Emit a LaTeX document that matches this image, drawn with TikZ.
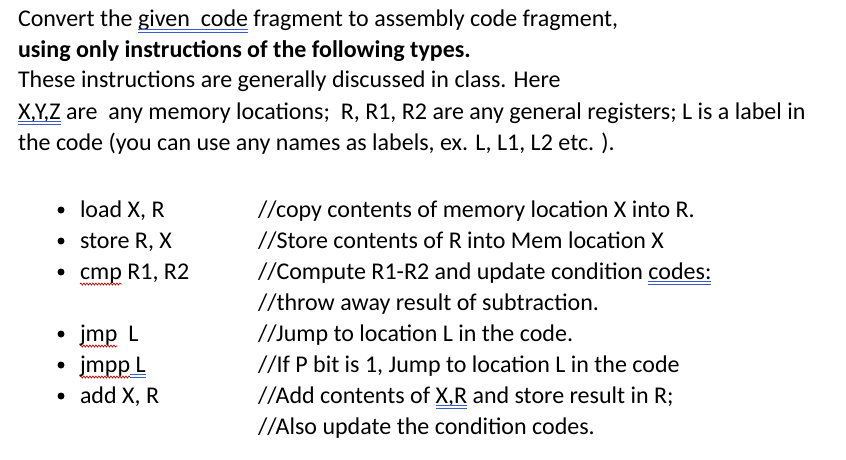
\documentclass[tikz,border=0pt]{standalone}
\usepackage{fontspec}
\setmainfont{Carlito}
\usetikzlibrary{decorations.pathmorphing}
\definecolor{spellblue}{RGB}{60,90,200}
\begin{document}
\begin{tikzpicture}[x=1pt,y=-1pt,
  t/.style={anchor=base west,inner sep=0pt,outer sep=0pt,font=\fontsize{24}{28}\selectfont},
  dbl/.style={spellblue,line width=1pt,double distance=1.3pt},
  wav/.style={red!80!black,line width=0.7pt,decorate,decoration={snake,amplitude=1pt,segment length=3pt}},
  bul/.style={circle,fill=black,inner sep=0pt,minimum size=7pt}]
\useasboundingbox (0,0) rectangle (846,460);
% header
\node[t] (h1a) at (18,27) {Convert the\ \mbox{}};
\node[t] (h1b) at (h1a.base east) {given\ \ code};
\node[t] (h1c) at (h1b.base east) {\mbox{}\ fragment to assembly code fragment,};
\draw[dbl] ([yshift=-4pt]h1b.base west) -- ([yshift=-4pt]h1b.base east);
\node[t,font=\fontsize{24}{28}\selectfont\bfseries] (h2) at (18,58) {using only instructions of the following types.};
\node[t] (h3) at (18,88) {These instructions are generally discussed in class. Here};
\node[t] (h4a) at (18,119) {X,Y,Z};
\node[t] (h4b) at (h4a.base east) {\mbox{}\ are\ \ any memory locations;\ \ R, R1, R2 are any general registers; L is a label in};
\draw[dbl] ([yshift=-4pt]h4a.base west) -- ([yshift=-4pt]h4a.base east);
\node[t] (h5) at (18,150) {the code (you can use any names as labels, ex. L, L1, L2 etc. ).};
% bullets
\foreach \n/\y in {b1/210,b2/241,b3/272,b4/334,b5/365,b6/396}
  \node[bul] (\n) at (61,\y) {};
\node[t] (i1) at (80,217) {load X, R};
\node[t] (i2) at (80,248) {store R, X};
\node[t] (i3a) at (80,279) {cmp};
\node[t] (i3b) at (i3a.base east) {\mbox{}\ R1, R2};
\draw[wav] ([yshift=-5pt]i3a.base west) -- ([yshift=-5pt]i3a.base east);
\node[t] (i4a) at (80,341) {jmp};
\node[t] (i4b) at (i4a.base east) {\mbox{}\ \ L};
\draw[wav] ([yshift=-5pt]i4a.base west) -- ([yshift=-5pt]i4a.base east);
\node[t] (i5a) at (80,372) {jmpp};
\node[t] (i5b) at (i5a.base east) {\mbox{}\ L};
\draw[wav] ([yshift=-5pt]i5a.base west) -- ([yshift=-5pt]i5a.base east);
\draw[dbl] ([yshift=-4pt]i5a.base east) -- ([yshift=-4pt]i5b.base east);
\node[t] (i6) at (80,403) {add X, R};
% comments
\node[t] (c1) at (258,217) {//copy contents of memory location X into R.};
\node[t] (c2) at (258,248) {//Store contents of R into Mem location X};
\node[t] (c3a) at (258,279) {//Compute R1-R2 and update condition\ \mbox{}};
\node[t] (c3b) at (c3a.base east) {codes:};
\draw[dbl] ([yshift=-4pt]c3b.base west) -- ([yshift=-4pt]c3b.base east);
\node[t] (c4) at (258,310) {//throw away result of subtraction.};
\node[t] (c5) at (258,341) {//Jump to location L in the code.};
\node[t] (c6) at (258,372) {//If P bit is 1, Jump to location L in the code};
\node[t] (c7a) at (258,403) {//Add contents of\ \mbox{}};
\node[t] (c7b) at (c7a.base east) {X,R};
\node[t] (c7c) at (c7b.base east) {\mbox{}\ and store result in R;};
\draw[dbl] ([yshift=-4pt]c7b.base west) -- ([yshift=-4pt]c7b.base east);
\node[t] (c8) at (258,434) {//Also update the condition codes.};
\end{tikzpicture}
\end{document}
